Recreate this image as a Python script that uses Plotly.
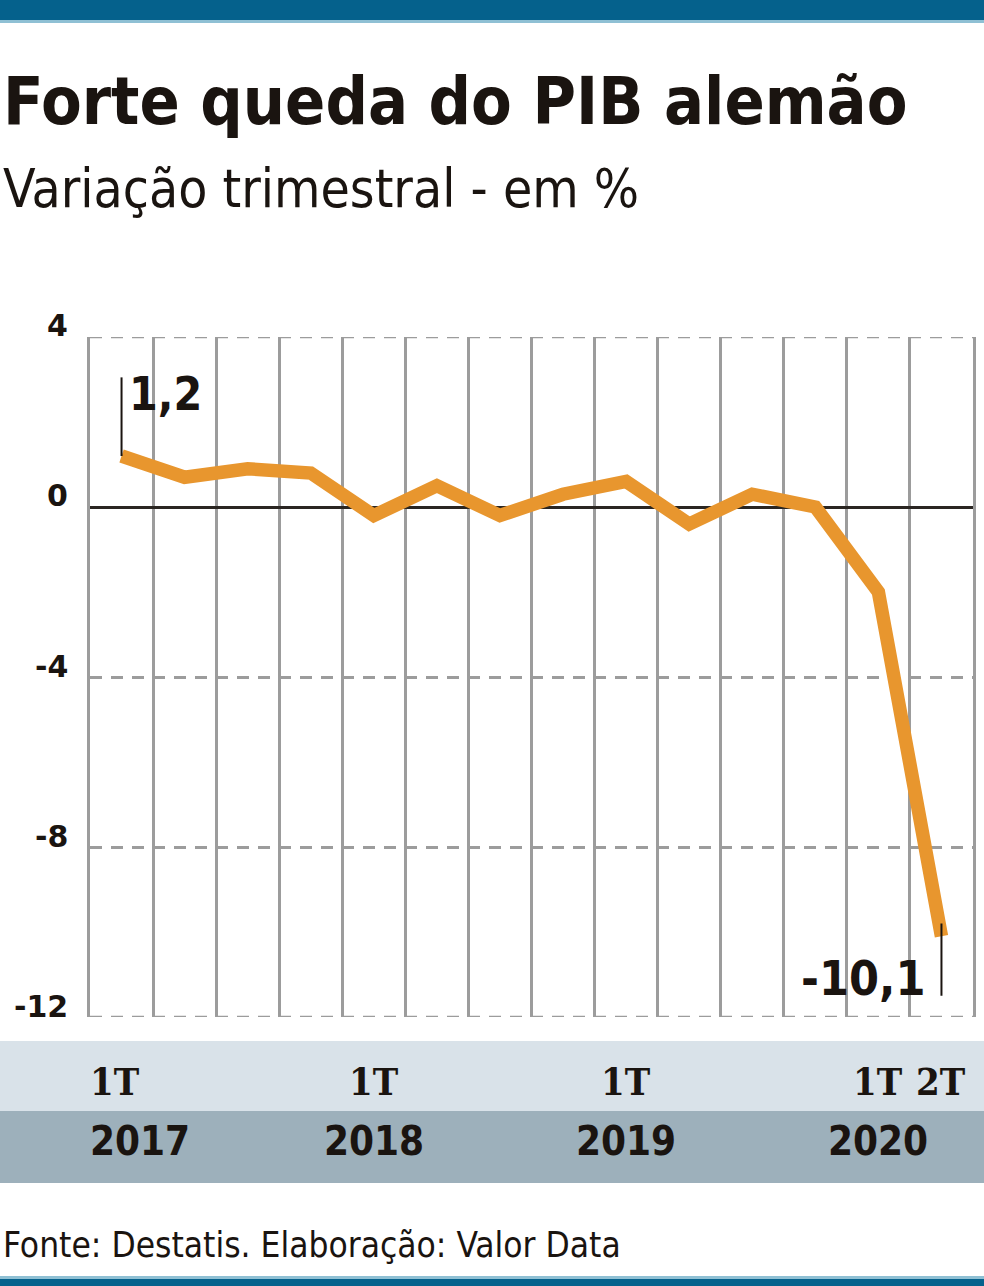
import plotly.graph_objects as go

# ---- data ----
quarters = ["1T 2017", "2T 2017", "3T 2017", "4T 2017",
            "1T 2018", "2T 2018", "3T 2018", "4T 2018",
            "1T 2019", "2T 2019", "3T 2019", "4T 2019",
            "1T 2020", "2T 2020"]
gdp_change = [1.2, 0.7, 0.9, 0.8, -0.2, 0.5, -0.2, 0.3, 0.6, -0.4, 0.3, 0.0, -2.0, -10.1]
y_ticks = [4, 0, -4, -8, -12]
quarter_label_idx = [0, 4, 8, 12, 13]
quarter_labels = ["1T", "1T", "1T", "1T", "2T"]
year_label_idx = [0, 4, 8, 12]
year_labels = ["2017", "2018", "2019", "2020"]

W, H = 984, 1286
def px(p): return p / W
def py(p): return 1 - p / H

ORANGE = "#E8962E"
GRID = "#9c9c9c"
INK = "#1a1410"
COND = "DejaVu Sans Condensed, Liberation Sans Narrow, sans-serif"
NARROW = "Liberation Sans Narrow, DejaVu Sans Condensed, sans-serif"

xs = list(range(len(gdp_change)))

fig = go.Figure()
fig.add_trace(go.Scatter(
    x=xs, y=gdp_change, mode="lines",
    line=dict(color=ORANGE, width=13.5),
    hoverinfo="skip", showlegend=False,
))

fig.update_layout(
    width=W, height=H, autosize=False,
    margin=dict(l=0, r=0, t=0, b=0, pad=0, autoexpand=False),
    paper_bgcolor="white", plot_bgcolor="white",
    showlegend=False,
    xaxis=dict(
        domain=[px(90), px(973)],
        range=[-0.5, len(xs) - 0.5],
        tickvals=[i - 0.5 for i in range(len(xs) + 1)],
        showticklabels=False, ticks="",
        showgrid=True, gridcolor=GRID, gridwidth=2.5,
        zeroline=False, showline=False, fixedrange=True,
    ),
    yaxis=dict(
        domain=[py(1017), py(337)],
        range=[-12, 4],
        tickvals=y_ticks,
        showticklabels=False,
        showgrid=True, gridcolor=GRID, gridwidth=2.5, griddash="12px,9px",
        zeroline=True, zerolinecolor="#2a2622", zerolinewidth=3,
        showline=True, linecolor=GRID, linewidth=2.5, mirror=True,
        ticks="", fixedrange=True,
    ),
)

shapes = []
# top and bottom bars
shapes.append(dict(type="rect", xref="paper", yref="paper", x0=0, x1=1, y0=py(20), y1=py(0),
                   fillcolor="#05618C", line_width=0, layer="above"))
shapes.append(dict(type="rect", xref="paper", yref="paper", x0=0, x1=1, y0=py(23), y1=py(20),
                   fillcolor="#8FC0D4", line_width=0, layer="above"))
shapes.append(dict(type="rect", xref="paper", yref="paper", x0=0, x1=1, y0=py(1286), y1=py(1279),
                   fillcolor="#05618C", line_width=0, layer="above"))
shapes.append(dict(type="rect", xref="paper", yref="paper", x0=0, x1=1, y0=py(1279), y1=py(1276),
                   fillcolor="#8FC0D4", line_width=0, layer="above"))
# category bands
shapes.append(dict(type="rect", xref="paper", yref="paper", x0=0, x1=1, y0=py(1111), y1=py(1041),
                   fillcolor="#D9E2E9", line_width=0, layer="below"))
shapes.append(dict(type="rect", xref="paper", yref="paper", x0=0, x1=1, y0=py(1183), y1=py(1111),
                   fillcolor="#9DB0BB", line_width=0, layer="below"))
# dashed gridlines at the range edges (plotly omits them)
for v in (y_ticks[0], y_ticks[-1]):
    shapes.append(dict(type="line", xref="paper", yref="y", x0=px(90), x1=px(973), y0=v, y1=v,
                       line=dict(color=GRID, width=2.5, dash="12px,9px"), layer="below"))
# label stems
shapes.append(dict(type="line", xref="x", yref="y", x0=xs[0], x1=xs[0],
                   y0=gdp_change[0], y1=gdp_change[0] + 1.85,
                   line=dict(color=INK, width=2), layer="above"))
shapes.append(dict(type="line", xref="x", yref="y", x0=xs[-1], x1=xs[-1],
                   y0=gdp_change[-1] + 0.3, y1=gdp_change[-1] - 1.4,
                   line=dict(color=INK, width=2), layer="above"))
fig.update_layout(shapes=shapes)

ann = []
ann.append(dict(text="Forte queda do PIB alemão", xref="paper", yref="paper",
                x=px(1), y=py(101), xanchor="left", yanchor="middle", showarrow=False,
                font=dict(family=NARROW, size=66, color=INK, weight="bold")))
ann.append(dict(text="Variação trimestral - em %", xref="paper", yref="paper",
                x=px(1), y=py(188), xanchor="left", yanchor="middle", showarrow=False,
                font=dict(family=NARROW, size=53, color=INK)))
ann.append(dict(text="Fonte: Destatis. Elaboração: Valor Data", xref="paper", yref="paper",
                x=px(1), y=py(1245), xanchor="left", yanchor="middle", showarrow=False,
                font=dict(family=NARROW, size=35, color=INK)))
# y tick labels (sit just above their gridlines)
for v in y_ticks:
    ann.append(dict(text=str(v), xref="paper", yref="y", x=px(70), y=v,
                    xanchor="right", yanchor="middle", yshift=11, showarrow=False,
                    font=dict(family="DejaVu Sans, sans-serif", size=30, color=INK, weight="bold")))
# value labels
ann.append(dict(text="1,2", xref="x", yref="y", x=xs[0], y=gdp_change[0],
                xanchor="left", yanchor="middle", xshift=5, yshift=62, showarrow=False,
                font=dict(family=COND, size=46, color=INK, weight="bold")))
ann.append(dict(text="-10,1", xref="x", yref="y", x=xs[-1], y=gdp_change[-1],
                xanchor="right", yanchor="middle", xshift=-14, yshift=-42, showarrow=False,
                font=dict(family=COND, size=48, color=INK, weight="bold")))
# category labels
for k, (i, t) in enumerate(zip(quarter_label_idx, quarter_labels)):
    a = dict(text=t, xref="x", yref="paper", x=i, y=py(1081), yanchor="middle",
             xanchor="center", showarrow=False,
             font=dict(family="DejaVu Serif Condensed, DejaVu Serif, serif", size=38,
                       color=INK, weight="bold"))
    if k == 0:
        a.update(x=i - 0.5, xanchor="left", xshift=-2)
    ann.append(a)
for k, (i, t) in enumerate(zip(year_label_idx, year_labels)):
    a = dict(text=t, xref="x", yref="paper", x=i, y=py(1141), yanchor="middle",
             xanchor="center", showarrow=False,
             font=dict(family=COND, size=40, color=INK, weight="bold"))
    if k == 0:
        a.update(x=i - 0.5, xanchor="left", xshift=-2)
    ann.append(a)
fig.update_layout(annotations=ann)

fig.write_html("out.html",
               post_script="document.body.style.margin='0';document.body.style.padding='0';")
